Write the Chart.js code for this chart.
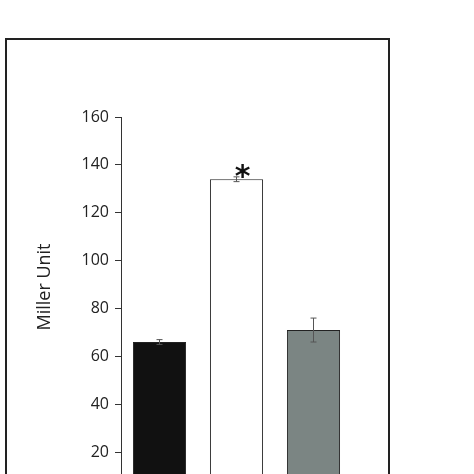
<!DOCTYPE html>
<html lang="en">
<head>
<meta charset="UTF-8" />
<script src="https://cdn.jsdelivr.net/npm/chart.js"></script>
<style>
  body { margin: 0; background: #fff; overflow: hidden; }
  #wrap { position: relative; width: 474px; height: 474px; overflow: hidden; }
  #frame { position: absolute; left: 5px; top: 38px; width: 381px; height: 480px; border: 2px solid #222; }
  canvas { position: absolute; left: 0; top: 0; }
</style>
</head>
<body>
<div id="wrap">
  <div id="frame"></div>
  <div style="position:absolute;left:0;top:0;width:474px;height:560px;">
    <canvas id="c"></canvas>
  </div>
</div>
<script>
const categories = ['A', 'B', 'C'];
const values = [66, 134, 71];
const errors = [1, 1, 5];
const barColors = ['#111111', '#ffffff', '#7b8583'];
const yTicks = [0, 20, 40, 60, 80, 100, 120, 140, 160];
const yTitle = 'Miller Unit';

const extras = {
  id: 'extras',
  afterDatasetsDraw(chart) {
    const ctx = chart.ctx, y = chart.scales.y;
    chart.getDatasetMeta(0).data.forEach((bar, i) => {
      const hi = y.getPixelForValue(values[i] + errors[i]);
      const lo = y.getPixelForValue(values[i] - errors[i]);
      ctx.save();
      ctx.strokeStyle = '#555'; ctx.lineWidth = 1;
      ctx.beginPath();
      ctx.moveTo(bar.x, hi); ctx.lineTo(bar.x, lo);
      ctx.moveTo(bar.x - 3, hi); ctx.lineTo(bar.x + 3, hi);
      ctx.moveTo(bar.x - 3, lo); ctx.lineTo(bar.x + 3, lo);
      ctx.stroke();
      if (i === 1) {
        ctx.fillStyle = '#111';
        ctx.font = 'bold 30px "DejaVu Sans"';
        ctx.textAlign = 'center';
        ctx.fillText('*', bar.x + 6, hi + 9);
      }
      ctx.restore();
    });
    // y axis title
    ctx.save();
    ctx.translate(45, 287);
    ctx.rotate(-Math.PI / 2);
    ctx.fillStyle = '#222';
    ctx.font = '18px "Open Sans"';
    ctx.textAlign = 'center';
    ctx.textBaseline = 'middle';
    ctx.fillText(yTitle, 0, 0);
    ctx.restore();
  }
};

new Chart(document.getElementById('c'), {
  type: 'bar',
  data: {
    labels: categories,
    datasets: [{
      data: values,
      backgroundColor: barColors,
      borderColor: '#222',
      borderWidth: 1,
      categoryPercentage: 1,
      barPercentage: 0.69
    }]
  },
  options: {
    responsive: true,
    maintainAspectRatio: false,
    animation: false,
    layout: { padding: { top: 117, right: 122, bottom: 60, left: 0 } },
    plugins: { legend: { display: false }, tooltip: { enabled: false } },
    scales: {
      x: { display: false },
      y: {
        min: 0, max: 160,
        afterBuildTicks: s => { s.ticks = yTicks.map(v => ({ value: v })); },
        afterFit: s => { s.width = 121; },
        grid: { display: true, drawOnChartArea: false, drawTicks: true, tickLength: 6, color: '#333' },
        border: { display: true, color: '#333', width: 1 },
        ticks: { color: '#222', font: { family: 'Open Sans', size: 16 }, padding: 6 }
      }
    }
  },
  plugins: [extras]
});
</script>
</body>
</html>
